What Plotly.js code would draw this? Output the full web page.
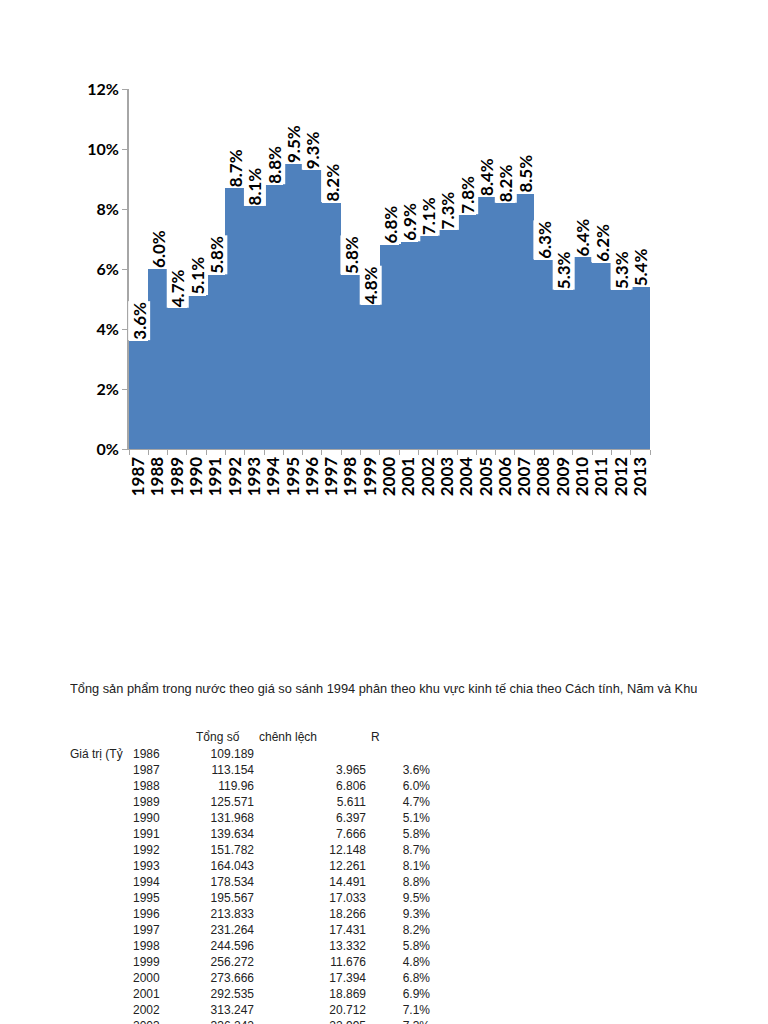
<!DOCTYPE html>
<html>
<head>
<meta charset="utf-8">
<script src="https://cdn.plot.ly/plotly-3.0.1.min.js"></script>
<style>
  html, body { margin: 0; padding: 0; background: #fff; width: 768px; height: 1024px; overflow: hidden; }
  #chart { position: absolute; left: 0; top: 0; width: 768px; height: 560px; }
  .cell { position: absolute; font-family: "Liberation Sans", Arial, sans-serif; font-size: 12px; color: #222; line-height: 16px; white-space: nowrap; }
  .r { text-align: right; }
</style>
</head>
<body>
<div id="chart"></div>
<div id="table"></div>
<script>
// ---- chart data ----
const years = ["1987","1988","1989","1990","1991","1992","1993","1994","1995","1996","1997","1998","1999","2000","2001","2002","2003","2004","2005","2006","2007","2008","2009","2010","2011","2012","2013"];
const rates = [3.6,6.0,4.7,5.1,5.8,8.7,8.1,8.8,9.5,9.3,8.2,5.8,4.8,6.8,6.9,7.1,7.3,7.8,8.4,8.2,8.5,6.3,5.3,6.4,6.2,5.3,5.4];

// ---- table data ----
const tableTitle = "Tổng sản phẩm trong nước theo giá so sánh 1994 phân theo khu vực kinh tế chia theo Cách tính, Năm và Khu vực";
const tableHeaders = ["Tổng số", "chênh lệch", "R"];
const rowLabel = "Giá trị (Tỷ";
const tableYears = ["1986","1987","1988","1989","1990","1991","1992","1993","1994","1995","1996","1997","1998","1999","2000","2001","2002","2003"];
const totals = ["109.189","113.154","119.96","125.571","131.968","139.634","151.782","164.043","178.534","195.567","213.833","231.264","244.596","256.272","273.666","292.535","313.247","336.242"];
const diffs = ["","3.965","6.806","5.611","6.397","7.666","12.148","12.261","14.491","17.033","18.266","17.431","13.332","11.676","17.394","18.869","20.712","22.995"];
const rTexts = ["","3.6%","6.0%","4.7%","5.1%","5.8%","8.7%","8.1%","8.8%","9.5%","9.3%","8.2%","5.8%","4.8%","6.8%","6.9%","7.1%","7.3%"];

const fontFam = "Lato, 'Open Sans', sans-serif";

const trace = {
  type: "bar",
  x: years,
  y: rates,
  marker: { color: "#4F81BD", line: { width: 0 } },
  hoverinfo: "skip"
};

// category axis: annotations positioned by category index
const annotations = years.map((yr, i) => ({
  x: i, y: rates[i], xref: "x", yref: "y",
  text: rates[i].toFixed(1) + "%",
  textangle: -90,
  showarrow: false,
  xanchor: "center", yanchor: "bottom",
  bgcolor: "#ffffff",
  borderpad: 0,
  font: { family: fontFam, size: 17, color: "#000", weight: "bold" }
}));

const layout = {
  width: 768, height: 560,
  margin: { l: 129, r: 118, t: 89, b: 111 },
  paper_bgcolor: "#fff", plot_bgcolor: "#fff",
  showlegend: false,
  bargap: 0,
  xaxis: {
    type: "category",
    tickmode: "linear", tick0: 0, dtick: 1,
    tickangle: -90,
    ticks: "outside", tickson: "boundaries", ticklen: 5, tickcolor: "#a6a6a6", tickwidth: 1,
    showline: true, linecolor: "#a6a6a6", linewidth: 1,
    showgrid: false, zeroline: false,
    tickfont: { family: fontFam, size: 17, color: "#000", weight: "bold" },
    range: [-0.5, 26.5]
  },
  yaxis: {
    range: [0, 12], dtick: 2, tick0: 0,
    ticksuffix: "%",
    ticks: "outside", ticklen: 5, tickcolor: "#a6a6a6", tickwidth: 1,
    showline: true, linecolor: "#a6a6a6", linewidth: 2,
    showgrid: false, zeroline: false,
    tickfont: { family: fontFam, size: 16, color: "#000", weight: "bold" }
  },
  annotations: annotations
};

Plotly.newPlot("chart", [trace], layout, { displayModeBar: false, staticPlot: true });

// ---- build table text ----
const tbl = document.getElementById("table");
function cell(text, left, top, opts) {
  const d = document.createElement("div");
  d.className = "cell" + (opts && opts.right ? " r" : "");
  d.textContent = text;
  d.style.top = (top - 8) + "px";
  if (opts && opts.right) { d.style.left = (left - 120) + "px"; d.style.width = "120px"; }
  else d.style.left = left + "px";
  if (opts && opts.width) { d.style.width = opts.width + "px"; d.style.overflow = "hidden"; }
  if (opts && opts.size) d.style.fontSize = opts.size + "px";
  tbl.appendChild(d);
}
cell(tableTitle, 70, 689, { width: 627, size: 12.8 });
cell(tableHeaders[0], 196, 737);
cell(tableHeaders[1], 259, 737);
cell(tableHeaders[2], 371, 737);
tableYears.forEach((yr, i) => {
  const y = 754 + 16 * i;
  if (i === 0) cell(rowLabel, 70, y);
  cell(yr, 133, y);
  cell(totals[i], 254, y, { right: true });
  if (diffs[i]) cell(diffs[i], 366, y, { right: true });
  if (rTexts[i]) cell(rTexts[i], 430, y, { right: true });
});
</script>
</body>
</html>
